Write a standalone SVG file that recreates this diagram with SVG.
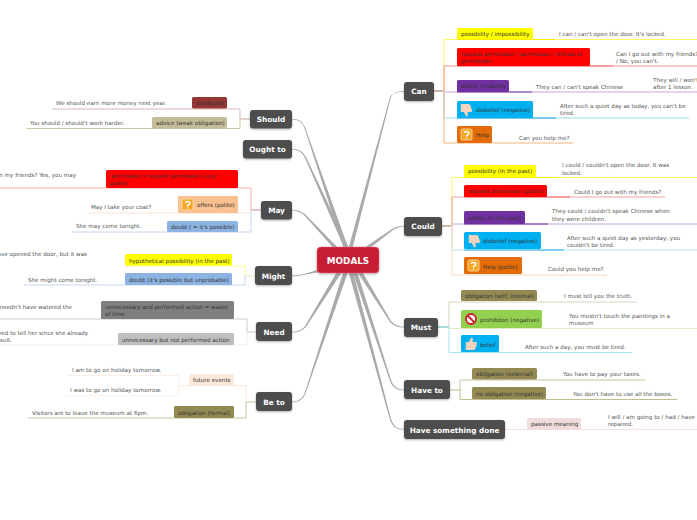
<svg xmlns="http://www.w3.org/2000/svg" width="697" height="520" viewBox="0 0 697 520">
<style>
text{font-family:"DejaVu Sans",sans-serif}
.n{fill:#4d4d4d;filter:url(#s)}
.nt{fill:#fff;font-size:7.300px;font-weight:700}
.t{font-size:5.600px;fill:#333}
.x{font-size:5.600px;fill:#555}
.l{fill:none;stroke-width:1}
.c{fill:#aaa}
</style>
<defs>
<filter id="s" x="-20%" y="-20%" width="140%" height="150%"><feDropShadow dx="0" dy="1" stdDeviation="0.8" flood-color="#000" flood-opacity="0.3"/></filter>
<g id="thumbdown"><path d="M3.500,1h5q1.500,0 2,1.500l1.500,5q.3,1.500 -1.500,1.500h-3l.3,3q0,1.500 -1.500,1.500l-2.500,-4.500h-3v-8h3z" fill="#f3d3bb"/></g>
<g id="q"><rect width="11" height="11" rx="1.500" fill="#f5a623" stroke="#fde2b5" stroke-width="0.8"/><path d="M3,3.500Q5.500,1.500 8,3.500Q8,5.500 5.500,6.500V7.500M5.500,8.500v1" fill="none" stroke="#fff" stroke-width="1.400"/></g>
</defs>
<rect width="697" height="520" fill="#fff"/>
<g id="connectors">
<path class="c" d="M404,91Q393,91 391,97L352,250L348,250L390,97Q392,92 404,92Z"/>
<path class="c" d="M404,225.700Q397,225.700 392,229L358,252L361,255L393,230Q398,226.500 404,226.500Z"/>
<path class="c" d="M404,326.700Q396,326.700 391,321L360,268L356,270L390,322Q395,327.500 404,327.500Z"/>
<path class="c" d="M404,389.700Q394,389.700 391,380L356,268L352,270L390,381Q393,390.500 404,390.500Z"/>
<path class="c" d="M404,429Q394,429 391,419L352,268L348,270L390,420Q393,429.800 404,429.800Z"/>
<path class="c" d="M292,118.800Q302,118.800 305,127L349,250L345,252L304,127Q301,119.600 292,119.600Z"/>
<path class="c" d="M292,148.800Q302,148.800 306,157L350,250L346,252L305,158Q301,149.600 292,149.600Z"/>
<path class="c" d="M292,209.700Q300,209.700 306,215L340,250L337,252L305,216Q299,210.500 292,210.500Z"/>
<path class="c" d="M292,275.600Q299,275.600 306,273.500L320,269L320,272L306,274.500Q299,276.400 292,276.400Z"/>
<path class="c" d="M292,331.700Q301,331.700 305,326L338,270L342,272L306,327Q301,332.500 292,332.500Z"/>
<path class="c" d="M292,401.700Q302,401.700 305,392L344,270L348,272L306,392Q303,402.500 292,402.500Z"/>
<g class="l">
<path stroke="#a0705a" d="M434,91H444"/>
<path stroke="#fff66a" d="M444,91V39.500H697"/><path stroke="#ffee00" d="M457,39.500H555"/>
<path stroke="#f79090" d="M444,91V66H697"/><path stroke="#f07070" d="M457,66H613"/>
<path stroke="#c9a6dc" d="M444,92H697"/><path stroke="#7b3fa5" d="M457,92H532"/>
<path stroke="#9ed8f5" d="M444,92V118H689"/><path stroke="#1aa8e0" d="M457,118H556"/>
<path stroke="#f4b27a" d="M444,92V143H573"/>
<path stroke="#a0705a" d="M442,226H452"/>
<path stroke="#fff66a" d="M452,226V177.500H697"/><path stroke="#ffee00" d="M464,177.500H559"/>
<path stroke="#f7a0a0" d="M452,226V197H665"/><path stroke="#f07070" d="M464,197H570"/>
<path stroke="#c9a6dc" d="M452,224H697"/><path stroke="#6a2ca0" d="M464,224H548"/>
<path stroke="#b5e5fa" d="M452,226V250H697"/><path stroke="#22b2ea" d="M464,250H564"/>
<path stroke="#f9d5b8" d="M452,226V275H607"/>
<path stroke="#4ab5b5" d="M438,327H449"/>
<path stroke="#d9d5bd" d="M449,327V302H637"/>
<path stroke="#dcedc8" d="M449,328.500H697"/>
<path stroke="#a8e2f7" d="M449,327V352.500H632"/>
<path stroke="#bfb88a" d="M450,390H460"/>
<path stroke="#c9c4a4" d="M460,390V380H645"/>
<path stroke="#c2bc90" d="M460,390V399.500H677"/>
<path stroke="#f6e0e0" d="M505,429.500H697"/>
<path stroke="#c9a494" d="M240,119H250"/>
<path stroke="#dcb4b4" d="M240,119V109H52"/>
<path stroke="#cfcaa5" d="M240,119V128.500H26"/>
<path stroke="#c88d94" d="M251,210H261"/>
<path stroke="#f7a8a8" d="M251,210V188H0"/>
<path stroke="#fbe3d2" d="M251,210V213H87"/>
<path stroke="#c5d8f0" d="M251,210V232H72"/>
<path stroke="#e8e8b0" d="M245,276H255"/>
<path stroke="#fcfc90" d="M245,276V266H125"/>
<path stroke="#c5d8f0" d="M245,276V285H24"/>
<path stroke="#c8c8c8" d="M247,332H256"/>
<path stroke="#cccccc" d="M247,332V319H0"/>
<path stroke="#eeeeee" d="M247,332V345H0"/>
<path stroke="#c8c3a0" d="M246,402H256"/>
<path stroke="#fde8dc" d="M246,402V385.700H179"/>
<path stroke="#fdeee4" d="M179,375.500V395.700M68,375.500H179M66,395.700H179"/>
<path stroke="#c8c3a0" d="M246,402V418H28"/>
</g>
</g>
<g id="modals"><rect x="317" y="247" width="62" height="26" rx="4" fill="#c61f36" stroke="#e8707f" stroke-width="0.500" filter="url(#s)"/><text x="348" y="264" text-anchor="middle" fill="#fff" font-size="8.800" font-weight="700">MODALS</text></g>
<g id="can"><rect class="n" x="404" y="82" width="30" height="19" rx="3"/><text class="nt" x="419" y="94" text-anchor="middle">Can</text>
<rect x="457" y="28" width="76" height="11" rx="1.500" fill="#ffff00"/><text class="t" x="461" y="35.500">possibility / impossibility</text>
<text class="x" x="559" y="35.500">I can / can't open the door. It's locked.</text>
<rect x="457" y="48" width="133" height="18" rx="1.500" fill="#ff0000"/><text class="t" x="461" y="55.500">request permission / permission / refusal of</text><text class="t" x="461" y="63">permission</text>
<text class="x" x="616" y="55.500">Can I go out with my friends?</text><text class="x" x="616" y="63">/ No, you can't.</text>
<rect x="457" y="80" width="52" height="12" rx="1.500" fill="#7030a0"/><text class="t" x="461" y="88">ability / inability</text>
<text class="x" x="536" y="89">They can / can't speak Chinese</text>
<text class="x" x="653" y="82">They will / won't</text><text class="x" x="653" y="89">after 1 lesson.</text>
<rect x="457" y="101" width="76" height="17" rx="1.500" fill="#00b0f0"/><use href="#thumbdown" x="460" y="103"/><text class="t" x="476" y="112">disbelief (negative)</text>
<text class="x" x="560" y="108">After such a quiet day as today, you can't be</text><text class="x" x="560" y="115">tired.</text>
<rect x="457" y="126" width="35" height="17" rx="1.500" fill="#e36c09"/><use href="#q" x="461" y="129"/><text class="t" x="476" y="137">Help</text>
<text class="x" x="519" y="140">Can you help me?</text></g>
<g id="could"><rect class="n" x="404" y="217" width="38" height="19" rx="3"/><text class="nt" x="423" y="229" text-anchor="middle">Could</text>
<rect x="464" y="165" width="72" height="12" rx="1.500" fill="#ffff00"/><text class="t" x="468" y="173">possibility (in the past)</text>
<text class="x" x="562" y="167">I could / couldn't open the door. It was</text><text class="x" x="562" y="174.500">locked.</text>
<rect x="464" y="185" width="83" height="12" rx="1.500" fill="#ff0000"/><text class="t" x="468" y="193">request permission (polite)</text>
<text class="x" x="574" y="194">Could I go out with my friends?</text>
<rect x="464" y="211" width="61" height="13" rx="1.500" fill="#7030a0"/><text class="t" x="468" y="220">ability (in the past)</text>
<text class="x" x="552" y="213">They could / couldn't speak Chinese when</text><text class="x" x="552" y="220.500">they were children.</text>
<rect x="464" y="232" width="77" height="17" rx="1.500" fill="#00b0f0"/><use href="#thumbdown" x="468" y="234"/><text class="t" x="483" y="243">disbelief (negative)</text>
<text class="x" x="567" y="240">After such a quiet day as yesterday, you</text><text class="x" x="567" y="247">couldn't be tired.</text>
<rect x="464" y="257" width="58" height="17" rx="1.500" fill="#e36c09"/><use href="#q" x="468" y="260"/><text class="t" x="483" y="269">Help (polite)</text>
<text class="x" x="548" y="271">Could you help me?</text></g>
<g id="must"><rect class="n" x="404" y="318" width="34" height="19" rx="3"/><text class="nt" x="421" y="330" text-anchor="middle">Must</text>
<rect x="461" y="290" width="76" height="11" rx="1.500" fill="#938953"/><text class="t" x="465" y="298">obligation (self, internal)</text>
<text class="x" x="564" y="298">I must tell you the truth.</text>
<rect x="461" y="310" width="81" height="18" rx="1.500" fill="#92d050"/><circle cx="471" cy="319" r="5" fill="#fff" stroke="#c8202c" stroke-width="1.800"/><path d="M467.500,315.500L474.500,322.500" stroke="#c8202c" stroke-width="1.800"/><text class="t" x="480" y="322">prohibiton (negative)</text>
<text class="x" x="569" y="318">You mustn't touch the paintings in a</text><text class="x" x="569" y="324.500">museum</text>
<rect x="461" y="335" width="38" height="17" rx="1.500" fill="#00b0f0"/><use href="#thumbdown" transform="translate(465,351) scale(1,-1)"/><text class="t" x="480" y="347">belief</text>
<text class="x" x="525" y="349">After such a day, you must be tired.</text></g>
<g id="have-to"><rect class="n" x="404" y="380" width="46" height="19" rx="3"/><text class="nt" x="427" y="393" text-anchor="middle">Have to</text>
<rect x="472" y="368" width="65" height="11.500" rx="1.500" fill="#938953"/><text class="t" x="476" y="376">obligation (external)</text>
<text class="x" x="563" y="376">You have to pay your taxes.</text>
<rect x="472" y="387" width="74" height="12" rx="1.500" fill="#938953"/><text class="t" x="476" y="396">no obligation (negative)</text>
<text class="x" x="573" y="396">You don't have to use all the boxes.</text></g>
<g id="have-something-done"><rect class="n" x="404" y="420" width="101" height="19" rx="3"/><text class="nt" x="454.500" y="432.500" text-anchor="middle">Have something done</text>
<rect x="527" y="418" width="54" height="12" rx="1.500" fill="#f2dcdb"/><text class="t" x="531" y="426">passive meaning</text>
<text class="x" x="608" y="419">I will / am going to / had / have</text><text class="x" x="608" y="426">repaired.</text></g>
<g id="should"><rect class="n" x="250" y="110" width="42" height="18.500" rx="3"/><text class="nt" x="271" y="122" text-anchor="middle">Should</text>
<rect x="192" y="97" width="35" height="11.500" rx="1.500" fill="#943634"/><text class="t" x="196" y="105">prediction</text>
<text class="x" x="56" y="105">We should earn more money next year.</text>
<rect x="152" y="117" width="75" height="11.500" rx="1.500" fill="#c4bd97"/><text class="t" x="156" y="125">advice (weak obligation)</text>
<text class="x" x="30" y="125">You should / should't work harder.</text></g>
<g id="ought-to"><rect class="n" x="243" y="140" width="49" height="18.500" rx="3"/><text class="nt" x="267.500" y="152" text-anchor="middle">Ought to</text></g>
<g id="may"><rect class="n" x="261" y="201" width="31" height="18.500" rx="3"/><text class="nt" x="276.500" y="213" text-anchor="middle">May</text>
<rect x="106" y="170" width="132" height="18" rx="1.500" fill="#ff0000"/><text class="t" x="111" y="178">permission / request permission (very</text><text class="t" x="110" y="185">polite)</text>
<text class="x" x="76" y="177" text-anchor="end">n my friends? Yes, you may</text>
<rect x="178" y="196" width="60" height="17" rx="1.500" fill="#fac08f"/><use href="#q" x="182" y="199"/><text class="t" x="197" y="207">offers (polite)</text>
<text class="x" x="91" y="209">May I take your coat?</text>
<rect x="167" y="221" width="71" height="11" rx="1.500" fill="#8db3e2"/><text class="t" x="171" y="229">doubt ( = it's possible)</text>
<text class="x" x="76" y="228">She may come tonight.</text></g>
<g id="might"><rect class="n" x="255" y="266" width="37" height="19" rx="3"/><text class="nt" x="273.500" y="279" text-anchor="middle">Might</text>
<rect x="125" y="254" width="107" height="11.500" rx="1.500" fill="#ffff00"/><text class="t" x="129" y="262.500">hypothetical possibility (in the past)</text>
<text class="x" x="87" y="256" text-anchor="end">ave opened the door, but it was</text>
<rect x="125" y="273" width="107" height="12" rx="1.500" fill="#8db3e2"/><text class="t" x="129" y="281.500">doubt (it's possible but unprobable)</text>
<text class="x" x="28" y="281.500">She might come tonight.</text></g>
<g id="need"><rect class="n" x="256" y="322" width="36" height="19" rx="3"/><text class="nt" x="274" y="335" text-anchor="middle">Need</text>
<rect x="101" y="301" width="133" height="18" rx="1.500" fill="#7f7f7f"/><text class="t" x="105" y="308.500">unnecessary and performed action = waste</text><text class="t" x="105" y="316">of time</text>
<text class="x" x="72" y="308.500" text-anchor="end">needn't have watered the</text>
<rect x="118" y="333" width="116" height="12" rx="1.500" fill="#bfbfbf"/><text class="t" x="122" y="342">unnecessary but not performed action</text>
<text class="x" x="88" y="334.500" text-anchor="end">eed to tell her since she already</text><text class="x" x="12" y="341.500" text-anchor="end">sult.</text></g>
<g id="be-to"><rect class="n" x="256" y="392" width="36" height="19" rx="3"/><text class="nt" x="274" y="405" text-anchor="middle">Be to</text>
<rect x="189" y="374" width="45" height="11.500" rx="1.500" fill="#fde9d9"/><text class="t" x="193" y="382">future events</text>
<text class="x" x="72" y="372">I am to go on holiday tomorrow.</text>
<text class="x" x="70" y="391.500">I was to go on holiday tomorrow.</text>
<rect x="174" y="406" width="60" height="12" rx="1.500" fill="#938953"/><text class="t" x="178" y="414.500">obligation (formal)</text>
<text class="x" x="32" y="414.500">Visitors are to leave the museum at 6pm.</text></g>
</svg>
